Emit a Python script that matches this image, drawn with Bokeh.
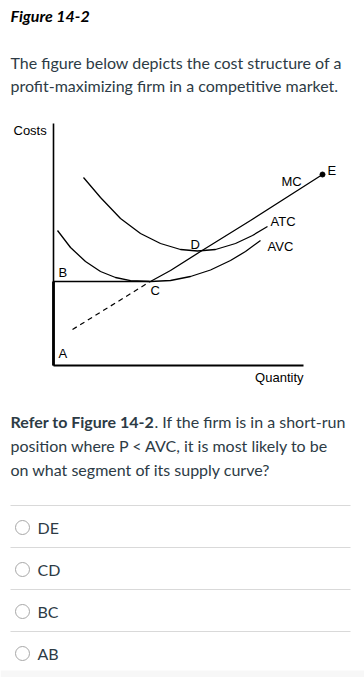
from bokeh.plotting import figure
from bokeh.models import Range1d
from bokeh.core.properties import value
from bokeh.embed import file_html
from bokeh.resources import INLINE

# ---------------- chart data (quantity, cost) in chart units ----------------
avc_q = [0.4, 1.7, 3.2, 4.7, 6.2, 7.7, 9.7, 11.7, 13.7, 15.7, 17.7, 19.2, 20.7]
avc_c = [13.5, 11.8, 10.4, 9.4, 8.8, 8.48, 8.4, 8.5, 8.9, 9.55, 10.5, 11.4, 12.5]

atc_q = [3.0, 4.7, 6.7, 8.7, 10.7, 12.7, 14.4, 16.2, 18.2, 19.9, 21.4]
atc_c = [18.8, 16.8, 14.7, 13.2, 12.2, 11.6, 11.45, 11.6, 12.2, 13.0, 13.9]

mc_dash_q = [1.9, 9.6]
mc_dash_c = [3.6, 8.35]
mc_q = [9.6, 11.7, 14.7, 19.7, 26.9]
mc_c = [8.35, 9.5, 11.4, 14.5, 19.1]

e_point_q = [26.9]
e_point_c = [19.1]

bc_q = [0.0, 9.6]          # horizontal segment B-C at the AVC minimum
bc_c = [8.4, 8.4]
ab_q = [0.0, 0.0]          # thick vertical segment A-B
ab_c = [0.0, 8.4]

q_axis_end = 25.0
c_axis_end = 24.2

point_labels = ["A", "B", "C", "D", "E"]
point_label_q = [0.5, 0.5, 9.7, 13.7, 27.4]
point_label_c = [1.2, 9.3, 7.5, 12.1, 19.5]

curve_labels = ["MC", "ATC", "AVC"]
curve_label_q = [22.8, 21.7, 21.4]
curve_label_c = [18.4, 14.4, 11.9]

options = ["DE", "CD", "BC", "AB"]

# ---------------- page texts ----------------
title = "Figure 14-2"
intro_lines = ["The figure below depicts the cost structure of a",
               "profit-maximizing firm in a competitive market."]
q_bold = "Refer to Figure 14-2"
q_lines = [". If the firm is in a short-run",
           "position where P < AVC, it is most likely to be",
           "on what segment of its supply curve?"]

W, H = 364, 677
p = figure(width=W, height=H, output_backend="svg", toolbar_location=None,
           x_range=Range1d(0, W), y_range=Range1d(H, 0),
           x_axis_location=None, y_axis_location=None, min_border=0,
           tools="")
p.grid.visible = False
p.outline_line_color = None
p.background_fill_color = "white"
p.border_fill_color = "white"
p.extra_x_ranges = {"q": Range1d(-5.3, 31.1)}
p.extra_y_ranges = {"c": Range1d(-31.2, 36.5)}

LATO = value("Lato")
ARIAL = value("Liberation Sans")
BODY = "#2d3b45"
CHART_FS = "13px"

# faint grey band at the bottom of the page
p.quad(left=[0], right=[W], top=[670], bottom=[H], fill_color="#f7f7f7",
       line_color=None)

# title and intro
p.text(x=[10], y=[14.5], text=[title], text_font=LATO, text_font_style="bold italic",
       text_font_size="16px", text_color="black", text_baseline="middle")
p.text(x=[10, 10], y=[61.5, 84.5], text=intro_lines, text_font=LATO,
       text_font_size="16px", text_color=BODY, text_baseline="middle")

# ---------------- chart ----------------
kw = dict(x_range_name="q", y_range_name="c")
p.line([0, 0], [0, c_axis_end], line_color="black", line_width=1.6, **kw)
p.line([0, q_axis_end], [0, 0], line_color="black", line_width=2.2, **kw)
p.line(ab_q, ab_c, line_color="black", line_width=2.8, **kw)
p.line(bc_q, bc_c, line_color="black", line_width=1.3, **kw)
p.line(avc_q, avc_c, line_color="black", line_width=1.3, **kw)
p.line(atc_q, atc_c, line_color="black", line_width=1.3, **kw)
p.line(mc_q, mc_c, line_color="black", line_width=1.3, **kw)
p.line(mc_dash_q, mc_dash_c, line_color="black", line_width=1.2,
       line_dash="5 4", **kw)
p.scatter(e_point_q, e_point_c, size=5, color="black", **kw)

p.text(x=point_label_q, y=point_label_c, text=point_labels, text_font=ARIAL,
       text_font_size=CHART_FS, text_color="black", text_baseline="middle", **kw)
p.text(x=curve_label_q, y=curve_label_c, text=curve_labels, text_font=ARIAL,
       text_font_size=CHART_FS, text_color="black", text_baseline="middle", **kw)
p.text(x=[-4.0], y=[23.5], text=["Costs"], text_font=ARIAL,
       text_font_size=CHART_FS, text_color="black", text_baseline="middle", **kw)
p.text(x=[q_axis_end], y=[-1.2], text=["Quantity"], text_font=ARIAL,
       text_font_size=CHART_FS, text_color="black", text_baseline="middle",
       text_align="right", **kw)

# ---------------- question ----------------
p.text(x=[10], y=[421], text=[q_bold], text_font=LATO, text_font_style="bold",
       text_font_size="16px", text_color=BODY, text_baseline="middle")
p.text(x=[154, 10, 10], y=[421, 444.5, 468.5], text=q_lines, text_font=LATO,
       text_font_size="16px", text_color=BODY, text_baseline="middle")

# ---------------- answer options ----------------
sep_y = [505, 547, 589, 631]
opt_y = [527, 569, 611, 653]
p.segment(x0=[10] * 4, y0=sep_y, x1=[350] * 4, y1=sep_y,
          line_color="#d9d9d9", line_width=1)
p.scatter(x=[22] * 4, y=opt_y, size=14, fill_color="white",
          line_color="#a8a8a8", line_width=1)
p.text(x=[37] * 4, y=[y - 0.5 for y in opt_y], text=options, text_font=LATO,
       text_font_size="16px", text_color=BODY, text_baseline="middle")

open("out.html", "w").write(file_html(p, INLINE))
